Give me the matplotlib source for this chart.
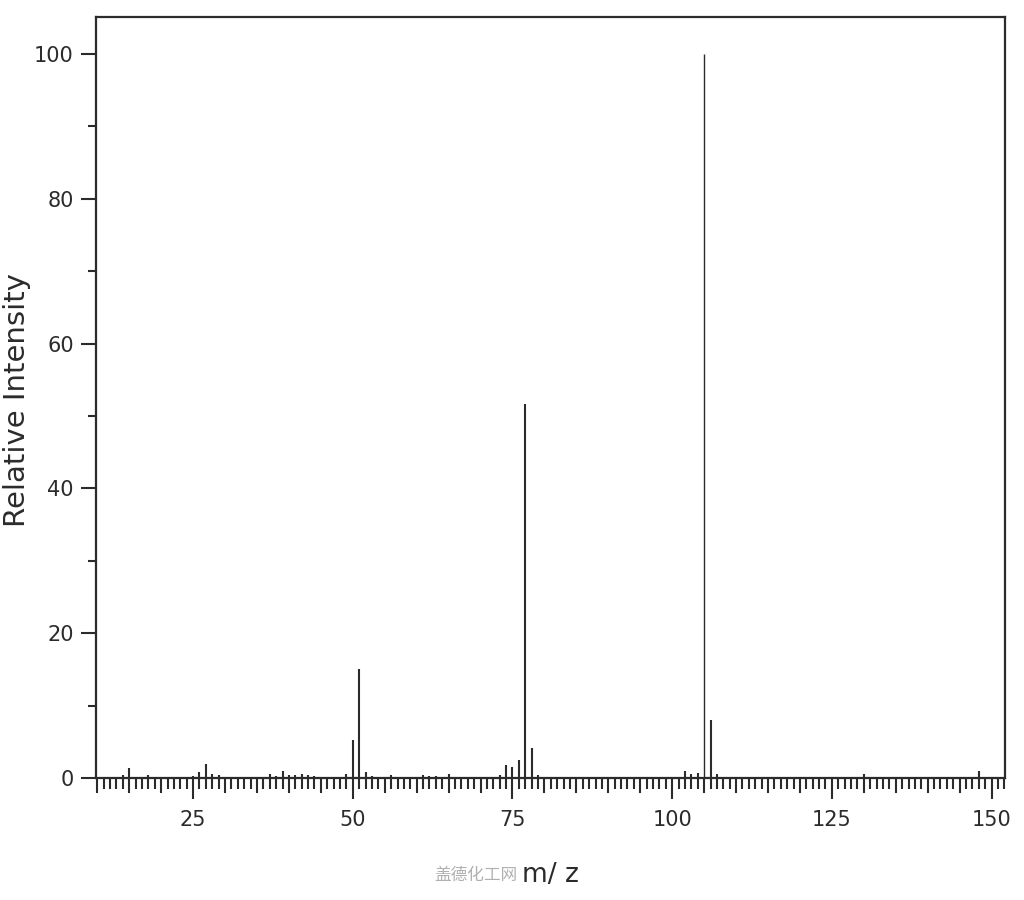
import matplotlib

matplotlib.use("Agg")
import matplotlib.pyplot as plt
from matplotlib.ticker import FixedLocator, MultipleLocator, FuncFormatter

# peak list (m/z, relative intensity)
mz = [14, 15, 18, 25, 26, 27, 28, 29, 37, 38, 39, 40, 41, 42, 43, 44,
      49, 50, 51, 52, 53, 56, 61, 62, 63, 65, 73, 74, 75, 76, 77, 78, 79,
      102, 103, 104, 105, 106, 107, 130, 148]
intensity = [0.4, 1.4, 0.4, 0.3, 0.8, 2.0, 0.6, 0.4, 0.6, 0.3, 1.0, 0.4, 0.4, 0.6, 0.4, 0.3,
             0.6, 5.3, 15.1, 0.8, 0.3, 0.4, 0.4, 0.3, 0.3, 0.6, 0.4, 1.8, 1.5, 2.5, 51.6, 4.1, 0.4,
             0.9, 0.5, 0.7, 100.0, 8.0, 0.6, 0.6, 0.9]

x_labels = [25, 50, 75, 100, 125, 150]
y_labels = [0, 20, 40, 60, 80, 100]

INK = "#2b2b2b"
plt.rcParams["font.family"] = ["DejaVu Sans", "Noto Sans CJK SC"]

fig = plt.figure(figsize=(10.24, 9), dpi=100)
ax = fig.add_axes([96 / 1024, 1 - 778 / 900, (1005 - 96) / 1024, (778 - 17) / 900])

# base peak drawn thinner, like the reference
widths = [1.0 if v >= 99 else 1.5 for v in intensity]
ax.vlines(mz, 0, intensity, color=INK, linewidth=widths)
ax.set_xlim(9.8, 152.1)
ax.set_ylim(0, 105.1)

for s in ax.spines.values():
    s.set_color(INK)
    s.set_linewidth(1.6)

# x axis: ticks every 5 (labels only on 25s), minor every 1
ax.xaxis.set_major_locator(MultipleLocator(5))
ax.xaxis.set_minor_locator(MultipleLocator(1))
ax.xaxis.set_major_formatter(FuncFormatter(lambda v, p: f"{int(round(v))}" if int(round(v)) in x_labels else ""))
ax.tick_params(axis="x", which="major", direction="out", length=11, width=1.5, color=INK,
               labelsize=15, labelcolor=INK, pad=12)
ax.tick_params(axis="x", which="minor", direction="out", length=8, width=1.5, color=INK)
fig.canvas.draw()
for t in ax.xaxis.get_major_ticks():
    if int(round(t.get_loc())) in x_labels:
        t.tick1line.set_markersize(15)

# y axis
ax.yaxis.set_major_locator(FixedLocator(y_labels))
ax.yaxis.set_minor_locator(MultipleLocator(10))
ax.tick_params(axis="y", which="major", direction="out", length=11, width=1.5, color=INK,
               labelsize=15, labelcolor=INK, pad=5)
ax.tick_params(axis="y", which="minor", direction="out", length=6, width=1.5, color=INK)

fig.text(17 / 1024, 1 - 400 / 900, "Relative Intensity", rotation=90, ha="center", va="center",
         fontsize=21, color=INK)
fig.text(517 / 1024, 1 - 875 / 900, "盖德化工网", ha="right", va="center", fontsize=12,
         color="#b0b0b0", family=["Noto Sans CJK SC", "DejaVu Sans"])
fig.text(550 / 1024, 1 - 875 / 900, "m/ z", ha="center", va="center", fontsize=19, color=INK)

fig.savefig("out.png", dpi=100)
